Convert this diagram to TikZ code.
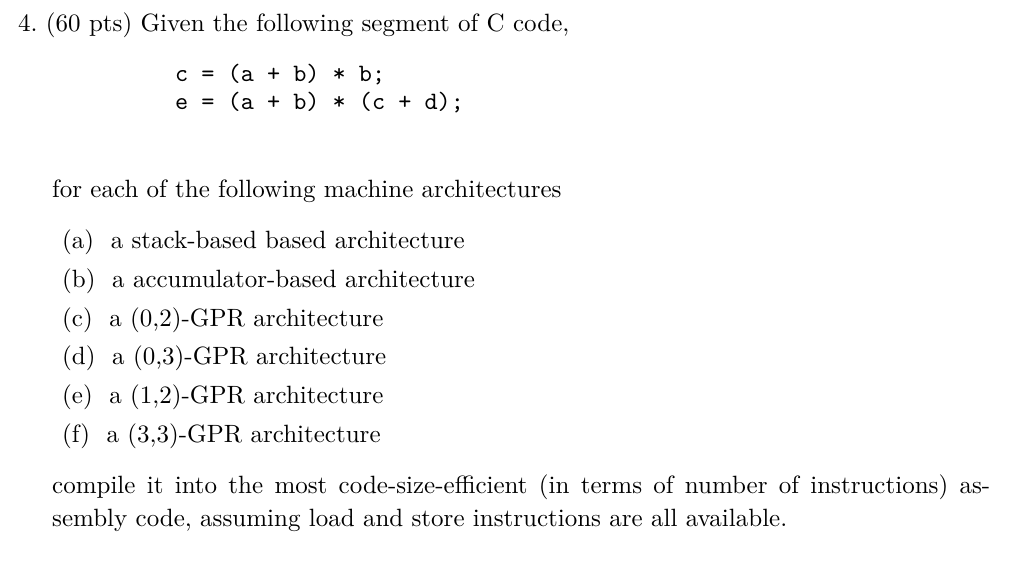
\documentclass[tikz,border=0pt]{standalone}
\usepackage{graphicx}
\newcommand{\myscl}{2.5}
\newcommand{\T}[1]{\scalebox{\myscl}{\fontsize{10}{12}\selectfont #1}}
\newcommand{\TT}[1]{\scalebox{\myscl}{\fontsize{10}{12}\selectfont\ttfamily #1}}
\begin{document}
\begin{tikzpicture}[x=1pt,y=-1pt,
  txt/.style={anchor=base west,inner sep=0pt}]
\useasboundingbox[fill=white] (0,0) rectangle (1024,564);
\node[txt] (title) at (18,32) {\T{4.\ (60 pts) Given the following segment of C code,}};
\node[txt] (c1) at (175,82) {\TT{c = (a + b) * b;}};
\node[txt] (c2) at (175,110) {\TT{e = (a + b) * (c + d);}};
\node[txt] (for) at (52,197) {\T{for each of the following machine architectures}};
\node[txt] (a) at (62,248) {\T{(a)\ \ a stack-based based architecture}};
\node[txt] (b) at (62,287) {\T{(b)\ \ a accumulator-based architecture}};
\node[txt] (c) at (62,326) {\T{(c)\ \ a (0,2)-GPR architecture}};
\node[txt] (d) at (62,364) {\T{(d)\ \ a (0,3)-GPR architecture}};
\node[txt] (e) at (62,403) {\T{(e)\ \ a (1,2)-GPR architecture}};
\node[txt] (f) at (62,442) {\T{(f)\ \ a (3,3)-GPR architecture}};
\node[txt] (p1) at (52,493) {\T{\makebox[375.2pt][s]{compile it into the most code-size-efficient (in terms of number of instructions) as-}}};
\node[txt] (p2) at (52,526) {\T{sembly code, assuming load and store instructions are all available.}};
\end{tikzpicture}
\end{document}
